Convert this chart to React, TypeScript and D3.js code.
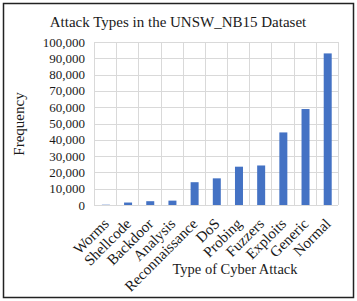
import React, { useEffect, useRef } from "react";
import * as d3 from "d3";

const categories = [
  "Worms",
  "Shellcode",
  "Backdoor",
  "Analysis",
  "Reconnaissance",
  "DoS",
  "Probing",
  "Fuzzers",
  "Exploits",
  "Generic",
  "Normal",
];
const counts = [174, 1511, 2329, 2677, 13987, 16353, 23500, 24246, 44525, 58871, 93000];
const yTicks = [0, 10000, 20000, 30000, 40000, 50000, 60000, 70000, 80000, 90000, 100000];

const App: React.FC = () => {
  const svgRef = useRef<SVGSVGElement | null>(null);

  useEffect(() => {
    const svg = d3.select(svgRef.current);
    svg.selectAll("*").remove();

    const width = 357;
    const height = 301;
    const margin = { top: 42, right: 19, bottom: 96, left: 94 };
    const font = "'Liberation Serif', 'Times New Roman', serif";

    svg.attr("width", width).attr("height", height);

    svg
      .append("rect")
      .attr("x", 3.5)
      .attr("y", 3.5)
      .attr("width", 350)
      .attr("height", 294)
      .attr("fill", "#fff")
      .attr("stroke", "#222")
      .attr("stroke-width", 1.5);

    const x = d3
      .scaleBand()
      .domain(categories)
      .range([margin.left, width - margin.right])
      .paddingInner(0)
      .paddingOuter(0);

    const y = d3
      .scaleLinear()
      .domain([0, 100000])
      .range([height - margin.bottom, margin.top]);

    const g = svg.append("g");

    // horizontal grid
    g.selectAll("line.hgrid")
      .data(yTicks)
      .enter()
      .append("line")
      .attr("x1", margin.left)
      .attr("x2", width - margin.right)
      .attr("y1", (d) => Math.round(y(d)) + 0.5)
      .attr("y2", (d) => Math.round(y(d)) + 0.5)
      .attr("stroke", "#d9d9d9")
      .attr("stroke-width", 1);

    // vertical grid at category boundaries
    const bounds = categories.map((c) => x(c)!).concat([width - margin.right]);
    g.selectAll("line.vgrid")
      .data(bounds)
      .enter()
      .append("line")
      .attr("x1", (d) => Math.round(d) + 0.5)
      .attr("x2", (d) => Math.round(d) + 0.5)
      .attr("y1", margin.top)
      .attr("y2", height - margin.bottom)
      .attr("stroke", "#d9d9d9")
      .attr("stroke-width", 1);

    const barW = 8;
    g.selectAll("rect.bar")
      .data(counts)
      .enter()
      .append("rect")
      .attr("x", (d, i) => x(categories[i])! + x.bandwidth() / 2 - barW / 2 + 0.8)
      .attr("y", (d) => y(d))
      .attr("width", barW)
      .attr("height", (d) => y(0) - y(d))
      .attr("fill", "#4472c4");

    // y tick labels
    g.selectAll("text.ytick")
      .data(yTicks)
      .enter()
      .append("text")
      .attr("x", margin.left - 9)
      .attr("y", (d) => y(d))
      .attr("dy", "0.35em")
      .attr("text-anchor", "end")
      .style("font-family", font)
      .style("font-size", "13px")
      .attr("fill", "#1a1a1a")
      .text((d) => d3.format(",")(d));

    // x tick labels rotated
    g.selectAll("text.xtick")
      .data(categories)
      .enter()
      .append("text")
      .attr(
        "transform",
        (d) => `translate(${x(d)! + x.bandwidth() / 2 + 1},${height - margin.bottom + 16}) rotate(-45)`
      )
      .attr("text-anchor", "end")
      .attr("dy", "0.35em")
      .style("font-family", font)
      .style("font-size", "15px")
      .attr("fill", "#1a1a1a")
      .text((d) => d);

    svg
      .append("text")
      .attr("x", 178)
      .attr("y", 27)
      .attr("text-anchor", "middle")
      .style("font-family", font)
      .style("font-size", "15px")
      .attr("fill", "#1a1a1a")
      .text("Attack Types in the UNSW_NB15 Dataset");

    svg
      .append("text")
      .attr("transform", `translate(24,124) rotate(-90)`)
      .attr("text-anchor", "middle")
      .style("font-family", font)
      .style("font-size", "15px")
      .attr("fill", "#1a1a1a")
      .text("Frequency");

    svg
      .append("text")
      .attr("x", 235)
      .attr("y", 274)
      .attr("text-anchor", "middle")
      .style("font-family", font)
      .style("font-size", "14.5px")
      .attr("fill", "#1a1a1a")
      .text("Type of Cyber Attack");
  }, []);

  return (
    <div style={{ position: "absolute", left: 0, top: 0 }}>
      <svg ref={svgRef} style={{ display: "block" }} />
    </div>
  );
};

export default App;
